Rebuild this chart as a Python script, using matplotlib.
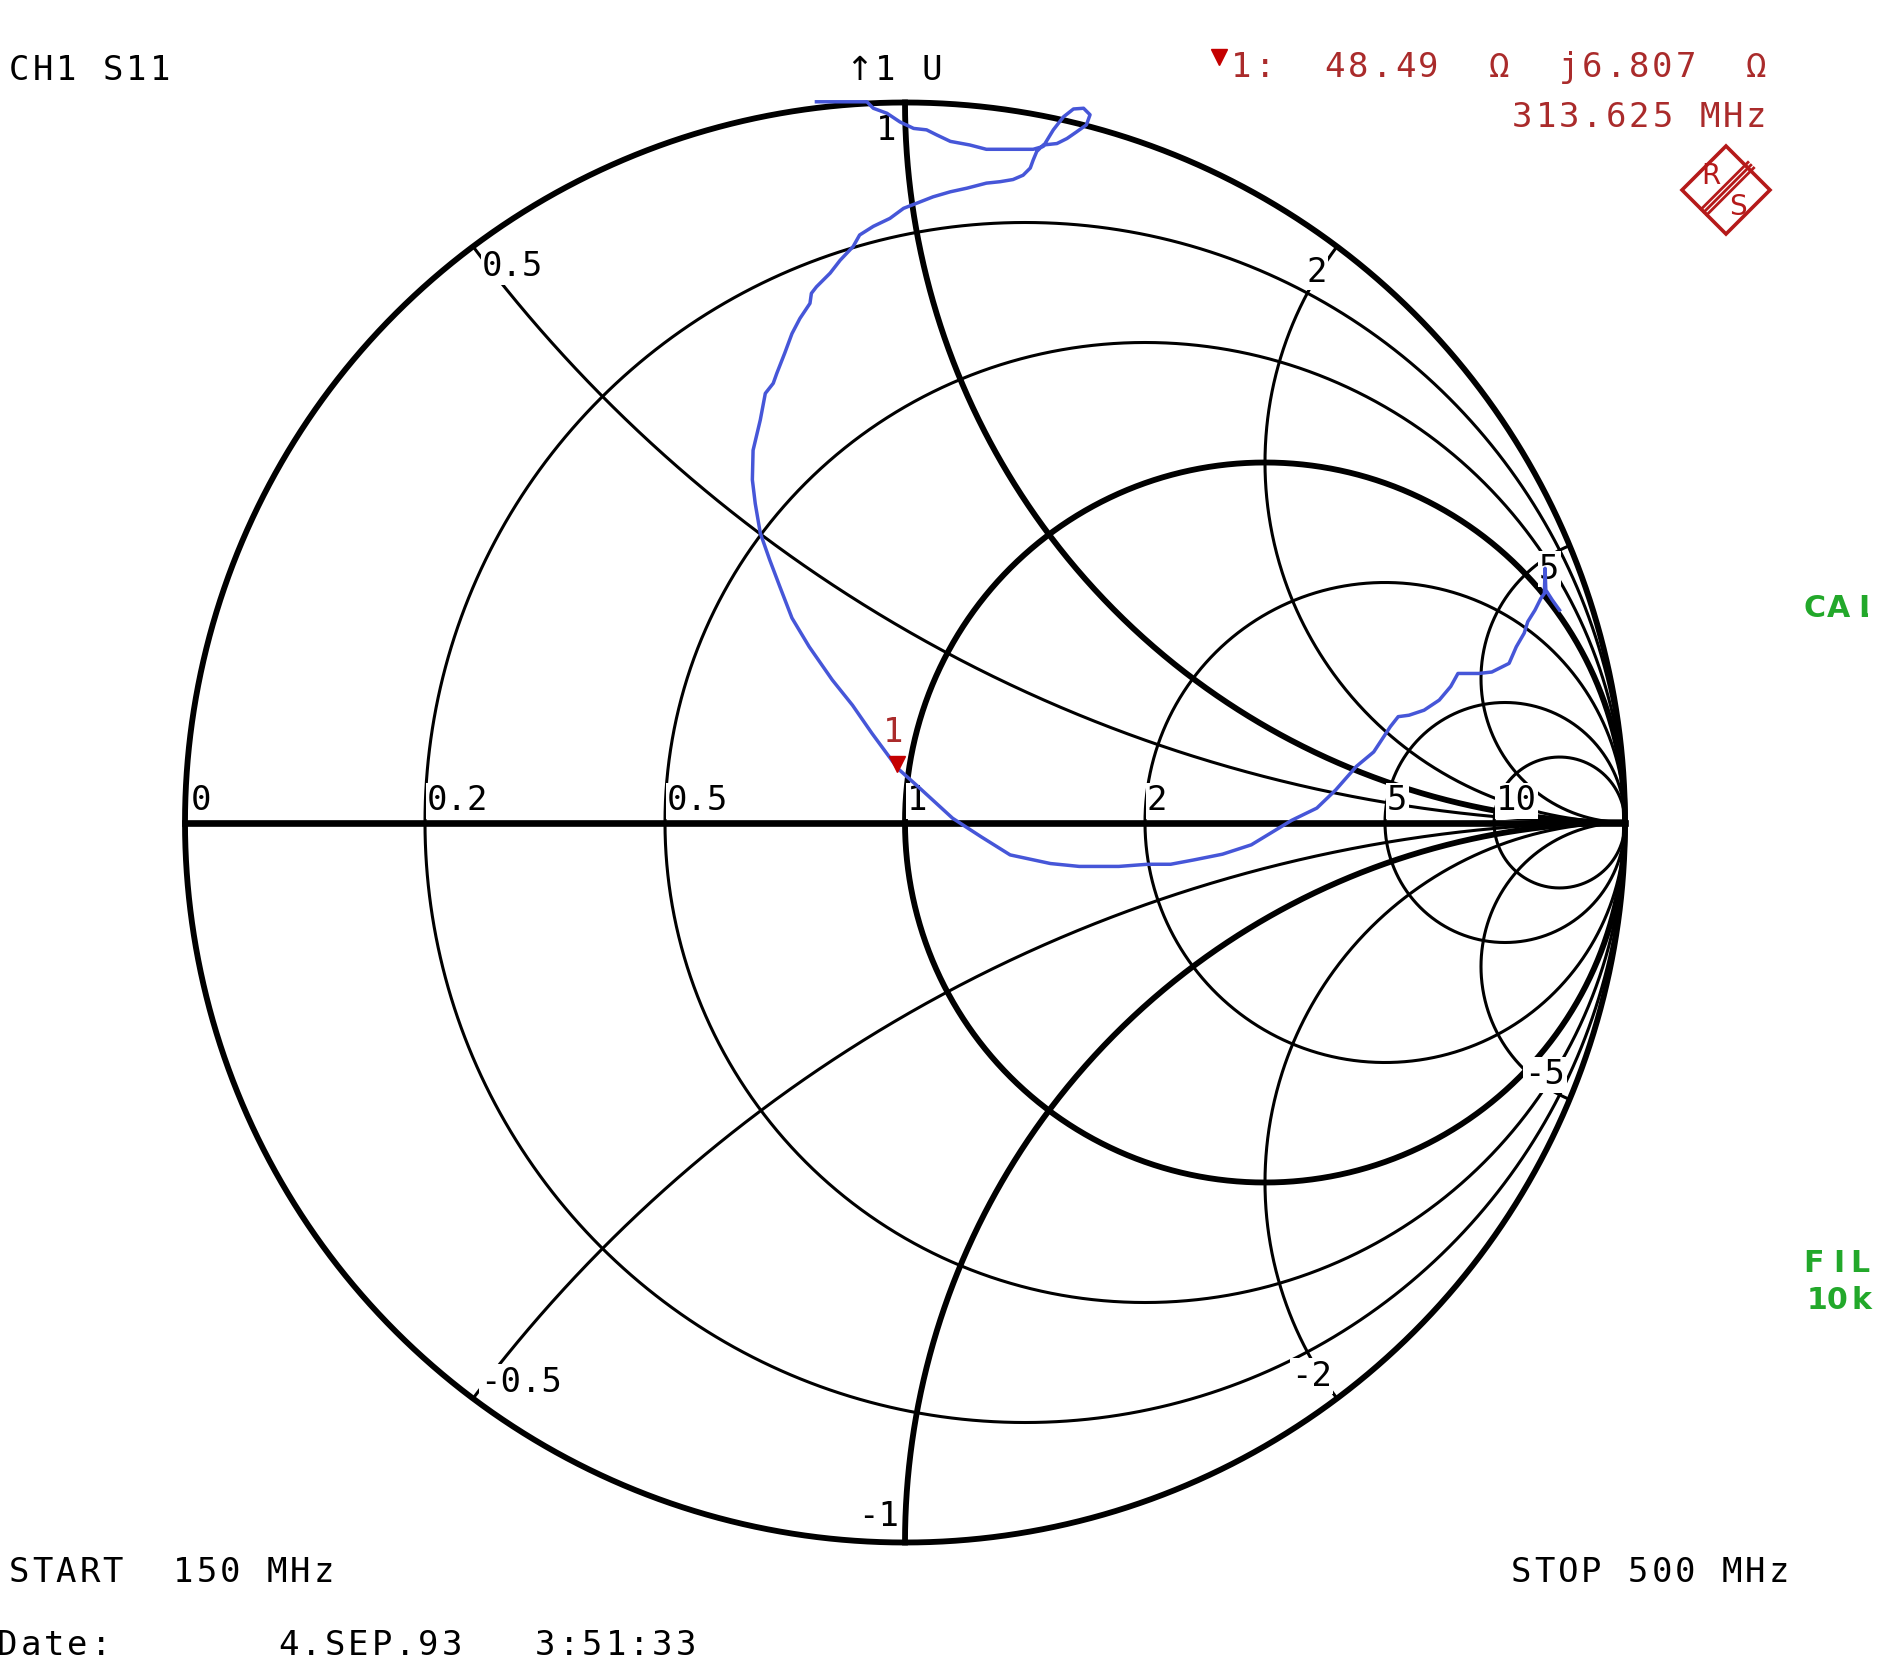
import numpy as np
import matplotlib
matplotlib.use("Agg")
import matplotlib.pyplot as plt
import matplotlib.transforms as mtransforms
from matplotlib.patches import Polygon, Rectangle

# ---------------------------------------------------------------------------
# Datos: traza S11 (coeficiente de reflexion) leida de la pantalla
# ---------------------------------------------------------------------------
gamma_re = [-0.123, -0.053, -0.044, -0.025, -0.007, 0.012, 0.030, 0.044, 0.063, 0.090,
            0.113, 0.178, 0.192, 0.206, 0.220, 0.234, 0.248, 0.257, 0.252, 0.238,
            0.225, 0.211, 0.192, 0.183, 0.178, 0.174, 0.164, 0.150, 0.132, 0.113,
            0.086, 0.063, 0.039, 0.016, -0.002, -0.021, -0.044, -0.063, -0.072, -0.090,
            -0.104, -0.123, -0.130, -0.132, -0.146, -0.157, -0.167, -0.178, -0.183, -0.194,
            -0.201, -0.211, -0.212, -0.208, -0.201, -0.188, -0.174, -0.157, -0.133, -0.101,
            -0.073, -0.046, -0.010, 0.018, 0.066, 0.106, 0.146, 0.202, 0.242, 0.297,
            0.337, 0.369, 0.401, 0.441, 0.481, 0.537, 0.572, 0.598, 0.627, 0.651,
            0.674, 0.685, 0.700, 0.721, 0.742, 0.758, 0.768, 0.781, 0.797, 0.815,
            0.839, 0.849, 0.860, 0.865, 0.875, 0.883, 0.888, 0.889, 0.890, 0.899, 0.909]
gamma_im = [1.001, 1.001, 0.992, 0.985, 0.973, 0.964, 0.962, 0.955, 0.946, 0.941,
            0.935, 0.935, 0.939, 0.962, 0.980, 0.991, 0.992, 0.983, 0.969, 0.959,
            0.950, 0.943, 0.941, 0.932, 0.920, 0.909, 0.899, 0.893, 0.890, 0.888,
            0.881, 0.876, 0.869, 0.860, 0.853, 0.839, 0.828, 0.816, 0.800, 0.781,
            0.763, 0.744, 0.735, 0.721, 0.700, 0.679, 0.652, 0.624, 0.610, 0.596,
            0.559, 0.517, 0.476, 0.443, 0.402, 0.365, 0.328, 0.284, 0.244, 0.198,
            0.163, 0.124, 0.075, 0.050, 0.006, -0.020, -0.045, -0.057, -0.061, -0.061,
            -0.058, -0.058, -0.052, -0.044, -0.031, 0.003, 0.020, 0.045, 0.078, 0.098,
            0.133, 0.147, 0.149, 0.156, 0.170, 0.189, 0.207, 0.207, 0.207, 0.209,
            0.221, 0.244, 0.263, 0.279, 0.295, 0.311, 0.318, 0.353, 0.323, 0.309, 0.295]

# marcador 1 (impedancia en ohm)
Z0 = 50.0
marker_r = 48.49
marker_x = 6.807

# reticula de la carta
r_circles = [0.2, 0.5, 1, 2, 5, 10]
x_arcs = [0.5, 1, 2, 5]
bold_values = [1]
r_label_values = [0, 0.2, 0.5, 1, 2, 5, 10]
r_labels = ["0", "0.2", "0.5", "1", "2", "5", "10"]
x_label_values = [0.5, 1, 2, 5, -5, -2, -1, -0.5]
x_labels = ["0.5", "1", "2", "5", "-5", "-2", "-1", "-0.5"]

# ---------------------------------------------------------------------------
# Figura (coordenadas en pixeles de pantalla)
# ---------------------------------------------------------------------------
W, H = 1890, 1664
CX, CY, R = 905, 822.5, 720

fig = plt.figure(figsize=(W / 100, H / 100), dpi=100)
ax = fig.add_axes([0, 0, 1, 1])
ax.axis("off")
ax.set_xlim(-CX / R, (W - CX) / R)
ax.set_ylim((CY - H) / R, CY / R)

pix = mtransforms.Affine2D().translate(-CX, -CY).scale(1 / R, -1 / R) + ax.transData

MONO = ["DejaVu Sans Mono", "DejaVu Sans"]
FS = 24.5
THIN, BOLD = 2.2, 4.2
BLUE = "#4656d8"
RED_TXT = "#aa2b2b"
RED = "#c40000"
GREEN = "#22a82a"


def off(dx, dy):
    return mtransforms.offset_copy(ax.transData, fig=fig, x=dx, y=dy, units="dots")


def mono(x, y, s, color="black", adv=23.4):
    for i, ch in enumerate(s):
        if ch != " ":
            ax.text(x + i * adv, y, ch, transform=pix, family=MONO, fontsize=FS,
                    color=color, ha="left", va="baseline")


# circulos de resistencia
t = np.linspace(0, 2 * np.pi, 1441)
ax.plot(np.cos(t), np.sin(t), color="black", lw=BOLD, zorder=4)
for r in r_circles:
    c, rad = r / (1 + r), 1 / (1 + r)
    lw = BOLD if r in bold_values else THIN
    ax.plot(c + rad * np.cos(t), rad * np.sin(t), color="black", lw=lw, zorder=2)

# eje real
ax.plot([-1, 1], [0, 0], color="black", lw=BOLD + 0.6, zorder=2)

# arcos de reactancia
rr = np.concatenate([[0], np.logspace(-3, 5, 2000)])
for xv in x_arcs:
    lw = BOLD if xv in bold_values else THIN
    for sgn in (1, -1):
        z = rr + 1j * sgn * xv
        g = (z - 1) / (z + 1)
        ax.plot(g.real, g.imag, color="black", lw=lw, zorder=2)

# etiquetas sobre el eje
lab_box = dict(fc="white", ec="none", pad=1.0)
for v, s in zip(r_label_values, r_labels):
    gx = (v - 1) / (v + 1)
    dx = 6 if v == 0 else 2
    ax.text(gx, 0, s, transform=off(dx, 12), family=MONO, fontsize=FS,
            ha="left", va="baseline", bbox=lab_box, zorder=3)

# etiquetas de reactancia sobre el borde
x_label_off = [(9, -30, "left"), (-9, -37, "right"), (-10, -35, "right"), (-10, -33, "right"),
               (-4, 15, "right"), (-5, 13, "right"), (-6, 16, "right"), (7, 7, "left")]
for v, s, (dx, dy, ha) in zip(x_label_values, x_labels, x_label_off):
    p = (1j * v - 1) / (1j * v + 1)
    ax.text(p.real, p.imag, s, transform=off(dx, dy), family=MONO, fontsize=FS,
            ha=ha, va="baseline", bbox=lab_box, zorder=3)

# traza medida
ax.plot(gamma_re, gamma_im, color=BLUE, lw=2.5, zorder=6)

# marcador 1
zm = complex(marker_r, marker_x) / Z0
gm = (zm - 1) / (zm + 1)
ax.plot([gm.real], [gm.imag], marker="v", ms=12, color=RED, mec=RED,
        transform=off(0, 8), zorder=7)
ax.text(gm.real, gm.imag, "1", transform=off(-4, 30), family=MONO, fontsize=FS,
        color=RED_TXT, ha="center", va="baseline", zorder=7)

# ---------------------------------------------------------------------------
# Textos de pantalla
# ---------------------------------------------------------------------------
mono(9, 80, "CH1 S11")
ax.text(873, 80, "\u2191", transform=pix, family="DejaVu Sans", fontsize=24,
        ha="right", va="baseline")
mono(874.4, 80, "1 U")
ax.plot([1219], [57], marker="v", ms=12, color=RED, transform=pix)
mono(1231, 77, "1:  48.49  \u03a9  j6.807  \u03a9", RED_TXT)
mono(1512, 127, "313.625 MHz", RED_TXT)
mono(9, 1582, "START  150 MHz")
mono(1511, 1582, "STOP 500 MHz")
mono(-3, 1655, "Date:       4.SEP.93   3:51:33")

# textos verdes (estado del equipo); la columna de la derecha queda cortada
clip = Rectangle((0, 0), 1868, H, transform=pix, visible=False)
ax.add_patch(clip)
for ch, xc in zip("CAL", [1815, 1838, 1867.5]):
    tx = ax.text(xc, 617, ch, transform=pix, family="DejaVu Sans", weight="bold",
                 fontsize=21.6, color=GREEN, ha="center", va="baseline", clip_on=True)
    tx.set_clip_path(clip)
for ch, xc in zip("FIL", [1814, 1839, 1860]):
    ax.text(xc, 1272, ch, transform=pix, family="DejaVu Sans", weight="bold",
            fontsize=21.6, color=GREEN, ha="center", va="baseline")
for ch, xc in zip("10k", [1817, 1837, 1862]):
    ax.text(xc, 1309, ch, transform=pix, family="DejaVu Sans", weight="bold",
            fontsize=21.6, color=GREEN, ha="center", va="baseline")

# logo R&S
LOGO = "#b51a1a"
lx, ly, hd = 1726, 190, 44
ax.add_patch(Polygon([(lx - hd, ly), (lx, ly - hd), (lx + hd, ly), (lx, ly + hd)],
                     closed=True, fill=False, ec=LOGO, lw=2.6, transform=pix))
u = np.array([1, -1]) / np.sqrt(2)
n = np.array([1, 1]) / np.sqrt(2)
a0 = np.array([lx - hd / 2, ly + hd / 2])
b0 = np.array([lx + hd / 2, ly - hd / 2]) + 4 * u
for k in (-4, 0, 4):
    a, b = a0 + k * n, b0 + k * n
    ax.plot([a[0], b[0]], [a[1], b[1]], color=LOGO, lw=2.0, transform=pix)
ax.text(1711, 184, "R", transform=pix, family="DejaVu Sans", fontsize=20,
        color=LOGO, ha="center", va="baseline")
ax.text(1738, 215, "S", transform=pix, family="DejaVu Sans", fontsize=20,
        color=LOGO, ha="center", va="baseline")

fig.savefig("out.png", dpi=100, facecolor="white")
